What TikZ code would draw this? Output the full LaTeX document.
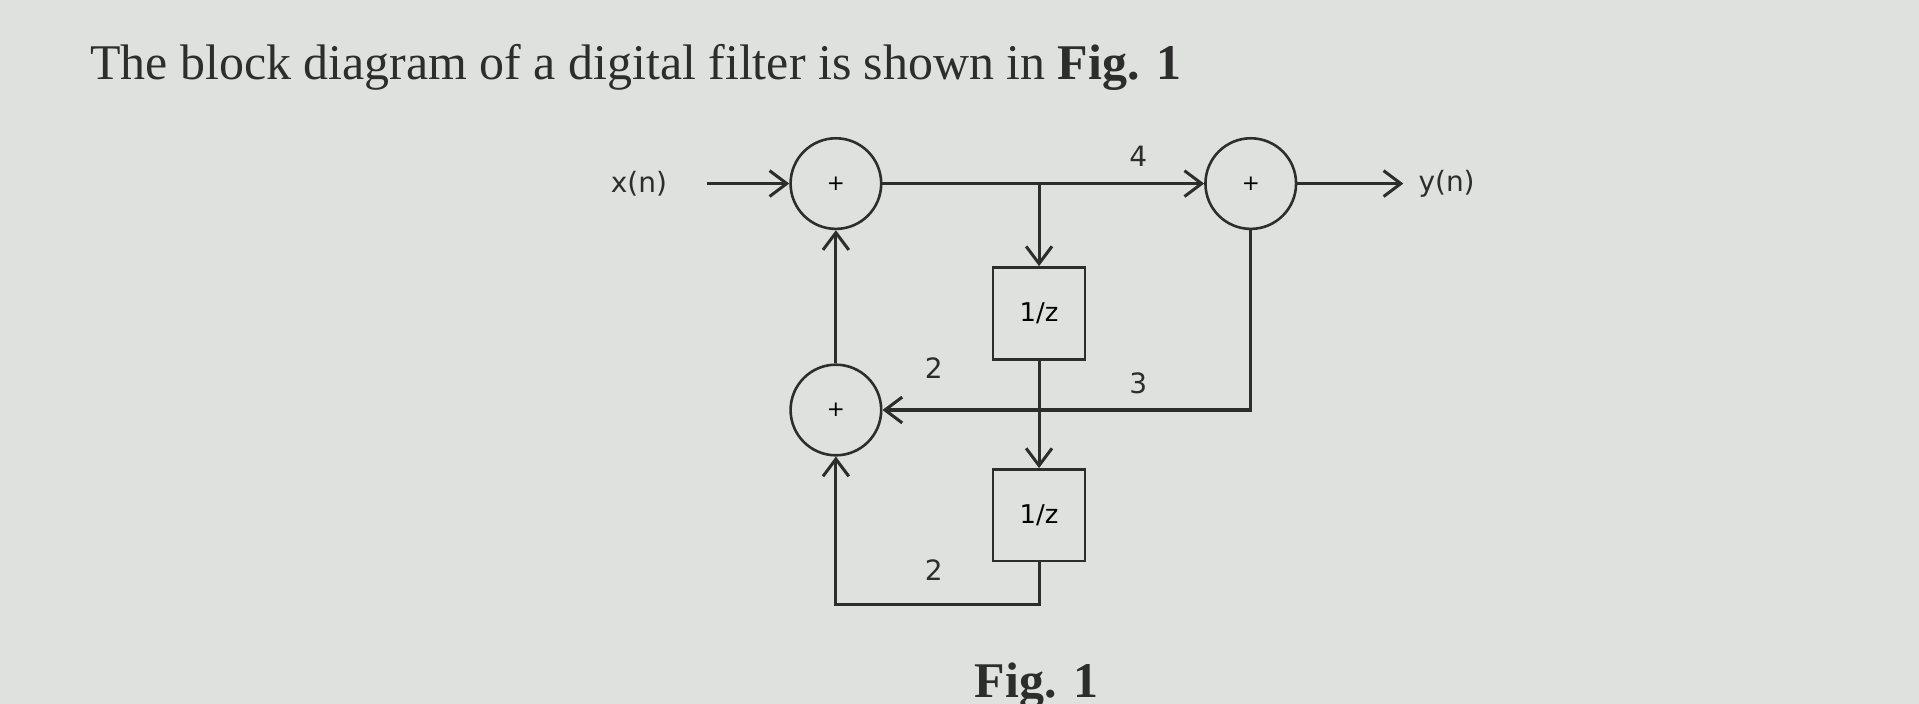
\documentclass[tikz,border=0pt]{standalone}
\usepackage{fontspec}
\setmainfont{Liberation Serif}
\newfontfamily\lblfont{DejaVu Sans}
\usetikzlibrary{arrows.meta}
\definecolor{paper}{RGB}{222,225,221}
\definecolor{ink}{RGB}{45,45,45}
\begin{document}
\begin{tikzpicture}[x=0.01cm,y=-0.01cm,
  sumnode/.style={circle,draw=ink,line width=0.6pt,minimum size=0.74cm,inner sep=0pt,font=\lblfont\fontsize{5}{6}\selectfont},
  delay/.style={rectangle,draw=ink,line width=0.6pt,minimum size=0.75cm,inner sep=0pt,font=\lblfont\fontsize{6}{7}\selectfont},
  lbl/.style={font=\lblfont\fontsize{6.5}{8}\selectfont,text=ink},
  sig/.style={draw=ink,line width=0.7pt,-{Straight Barb[length=4pt,width=6pt]}}]
\fill[paper] (0,0) rectangle (1568,575);
\useasboundingbox (0,0) rectangle (1568,575);
\node[anchor=west,inner sep=0pt,font=\fontsize{11.6}{13}\selectfont,text=ink] (title) at (73,55) {The block diagram of a digital filter is shown in \textbf{Fig. 1}};
\node[sumnode] (s1) at (683,150) {+};
\node[sumnode] (s2) at (1022,150) {+};
\node[sumnode] (s3) at (683,335) {+};
\node[delay] (d1) at (849,256) {1/z};
\node[delay] (d2) at (849,421) {1/z};
\node[lbl] (xin) at (522,150) {x(n)};
\node[lbl] (yout) at (1182,150) {y(n)};
\coordinate (xs) at (578,150);
\coordinate (br) at (849,150);
\coordinate (rc) at (1022,335);
\coordinate (bm) at (849,494);
\draw[sig] (xs) -- (s1.west);
\draw[sig] (s1.east) -- (s2.west);
\draw[sig] (s2.east) -- (yout.west);
\draw[sig] (br) -- (d1.north);
\draw[sig] (d1.south) -- (d2.north);
\draw[sig] (s2.south) |- (rc) -- (s3.east);
\draw[sig] (s3.north) -- (s1.south);
\draw[sig] (d2.south) -- (bm) -| (s3.south);
\node[lbl] (l4) at (930,128) {4};
\node[lbl] (l2a) at (763,301) {2};
\node[lbl] (l3) at (930,313) {3};
\node[lbl] (l2b) at (763,466) {2};
\node[font=\bfseries\fontsize{11.6}{13}\selectfont,text=ink] (fig) at (847,560) {Fig. 1};
\end{tikzpicture}
\end{document}
